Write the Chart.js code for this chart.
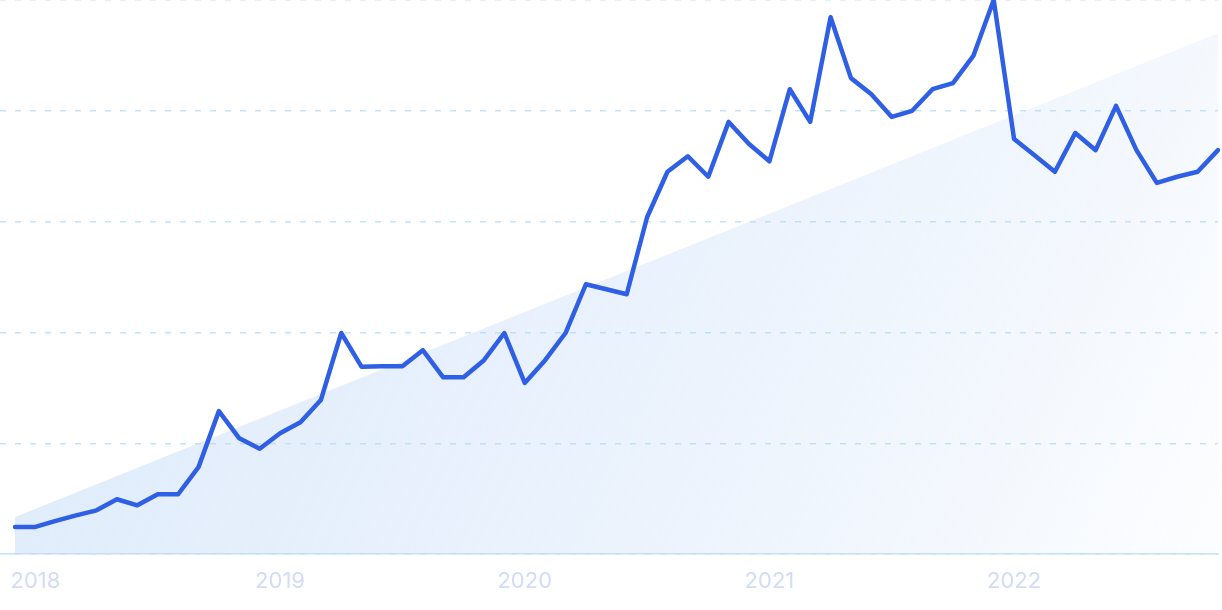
<!DOCTYPE html>
<html>
<head>
<meta charset="utf-8">
<script src="https://cdn.jsdelivr.net/npm/chart.js@4/dist/chart.umd.min.js"></script>
<style>
  html, body { margin: 0; padding: 0; background: #ffffff; }
  #wrap { width: 1222px; height: 610px; position: relative; }
</style>
</head>
<body>
<div id="wrap"><canvas id="c"></canvas></div>
<script>
// Monthly categories, Dec 2017 .. Nov 2022
const months = [
  '2017-12',
  '2018-01','2018-02','2018-03','2018-04','2018-05','2018-06','2018-07','2018-08','2018-09','2018-10','2018-11','2018-12',
  '2019-01','2019-02','2019-03','2019-04','2019-05','2019-06','2019-07','2019-08','2019-09','2019-10','2019-11','2019-12',
  '2020-01','2020-02','2020-03','2020-04','2020-05','2020-06','2020-07','2020-08','2020-09','2020-10','2020-11','2020-12',
  '2021-01','2021-02','2021-03','2021-04','2021-05','2021-06','2021-07','2021-08','2021-09','2021-10','2021-11','2021-12',
  '2022-01','2022-02','2022-03','2022-04','2022-05','2022-06','2022-07','2022-08','2022-09','2022-10','2022-11'
];

// Interest values (0-100 scale)
const interest = [
  4.9,
  4.9, 6.0, 7.0, 7.9, 9.9, 8.8, 10.8, 10.8, 15.7, 25.8, 20.9, 19.0,
  21.8, 23.8, 27.8, 39.9, 33.8, 33.9, 33.9, 36.8, 31.9, 31.9, 35.0, 39.9,
  30.9, 35.0, 39.9, 48.7, 47.8, 46.9, 60.8, 69.0, 71.8, 68.1, 78.0, 74.0,
  70.9, 83.9, 78.0, 96.9, 85.9, 83.0, 78.9, 80.0, 83.9, 85.0, 89.9, 100,
  74.9, 72.0, 69.0, 76.0, 72.9, 80.9, 72.9, 67.0, 68.1, 69.0, 72.9
];

// Trend line: start and end values only
const trendStart = 6.7;
const trendEnd = 94.0;
const trend = months.map((m, i) => i === 0 ? trendStart : (i === months.length - 1 ? trendEnd : null));

const yTicks = [0, 20, 40, 60, 80, 100];

const gridColor = '#c2e3f8';

const ctx = document.getElementById('c').getContext('2d');

function trendFill(context) {
  const chart = context.chart;
  const area = chart.chartArea;
  if (!area) return 'rgba(190,215,248,0.3)';
  const g = chart.ctx.createLinearGradient(area.left, area.top, area.right, area.bottom);
  g.addColorStop(0, 'rgba(190,215,248,0.50)');
  g.addColorStop(0.175, 'rgba(190,215,248,0.45)');
  g.addColorStop(0.53, 'rgba(190,215,248,0.33)');
  g.addColorStop(0.835, 'rgba(190,215,248,0.16)');
  g.addColorStop(1, 'rgba(190,215,248,0.04)');
  return g;
}

new Chart(ctx, {
  type: 'line',
  data: {
    labels: months,
    datasets: [
      {
        data: interest,
        borderColor: '#2e5fe5',
        borderWidth: 4.5,
        pointRadius: 0,
        tension: 0,
        fill: false,
        borderJoinStyle: 'round',
        borderCapStyle: 'round'
      },
      {
        data: trend,
        spanGaps: true,
        borderWidth: 0,
        borderColor: 'rgba(0,0,0,0)',
        pointRadius: 0,
        fill: 'origin',
        backgroundColor: trendFill
      }
    ]
  },
  options: {
    responsive: true,
    maintainAspectRatio: false,
    animation: false,
    events: [],
    layout: { padding: { top: 0, right: 4, bottom: 2, left: 0 } },
    plugins: {
      legend: { display: false },
      tooltip: { enabled: false }
    },
    scales: {
      x: {
        grid: { display: false, drawTicks: false },
        border: { display: true, color: '#c3e2f6', width: 1.5 },
        ticks: {
          autoSkip: false,
          maxRotation: 0,
          minRotation: 0,
          padding: 0,
          color: '#d3dcf6',
          font: { family: 'Inter, Roboto, "Noto Sans", sans-serif', size: 22, lineHeight: 2.45 },
          callback: function (val, idx) {
            const m = months[idx];
            return m.endsWith('-01') ? m.slice(0, 4) : '';
          }
        }
      },
      y: {
        min: 0,
        max: 100,
        afterBuildTicks: (axis) => { axis.ticks = yTicks.map(v => ({ value: v })); },
        ticks: { display: false },
        grid: {
          color: gridColor,
          lineWidth: 1.5,
          drawTicks: true,
          tickLength: 15,
          tickColor: (c) => (c.tick && c.tick.value === 0) ? '#c3e2f6' : gridColor,
          tickWidth: 1.5,
          tickBorderDash: (c) => (c.tick && c.tick.value === 0) ? [] : [6, 9]
        },
        border: { display: false, dash: [6, 9] }
      }
    }
  }
});
</script>
</body>
</html>
